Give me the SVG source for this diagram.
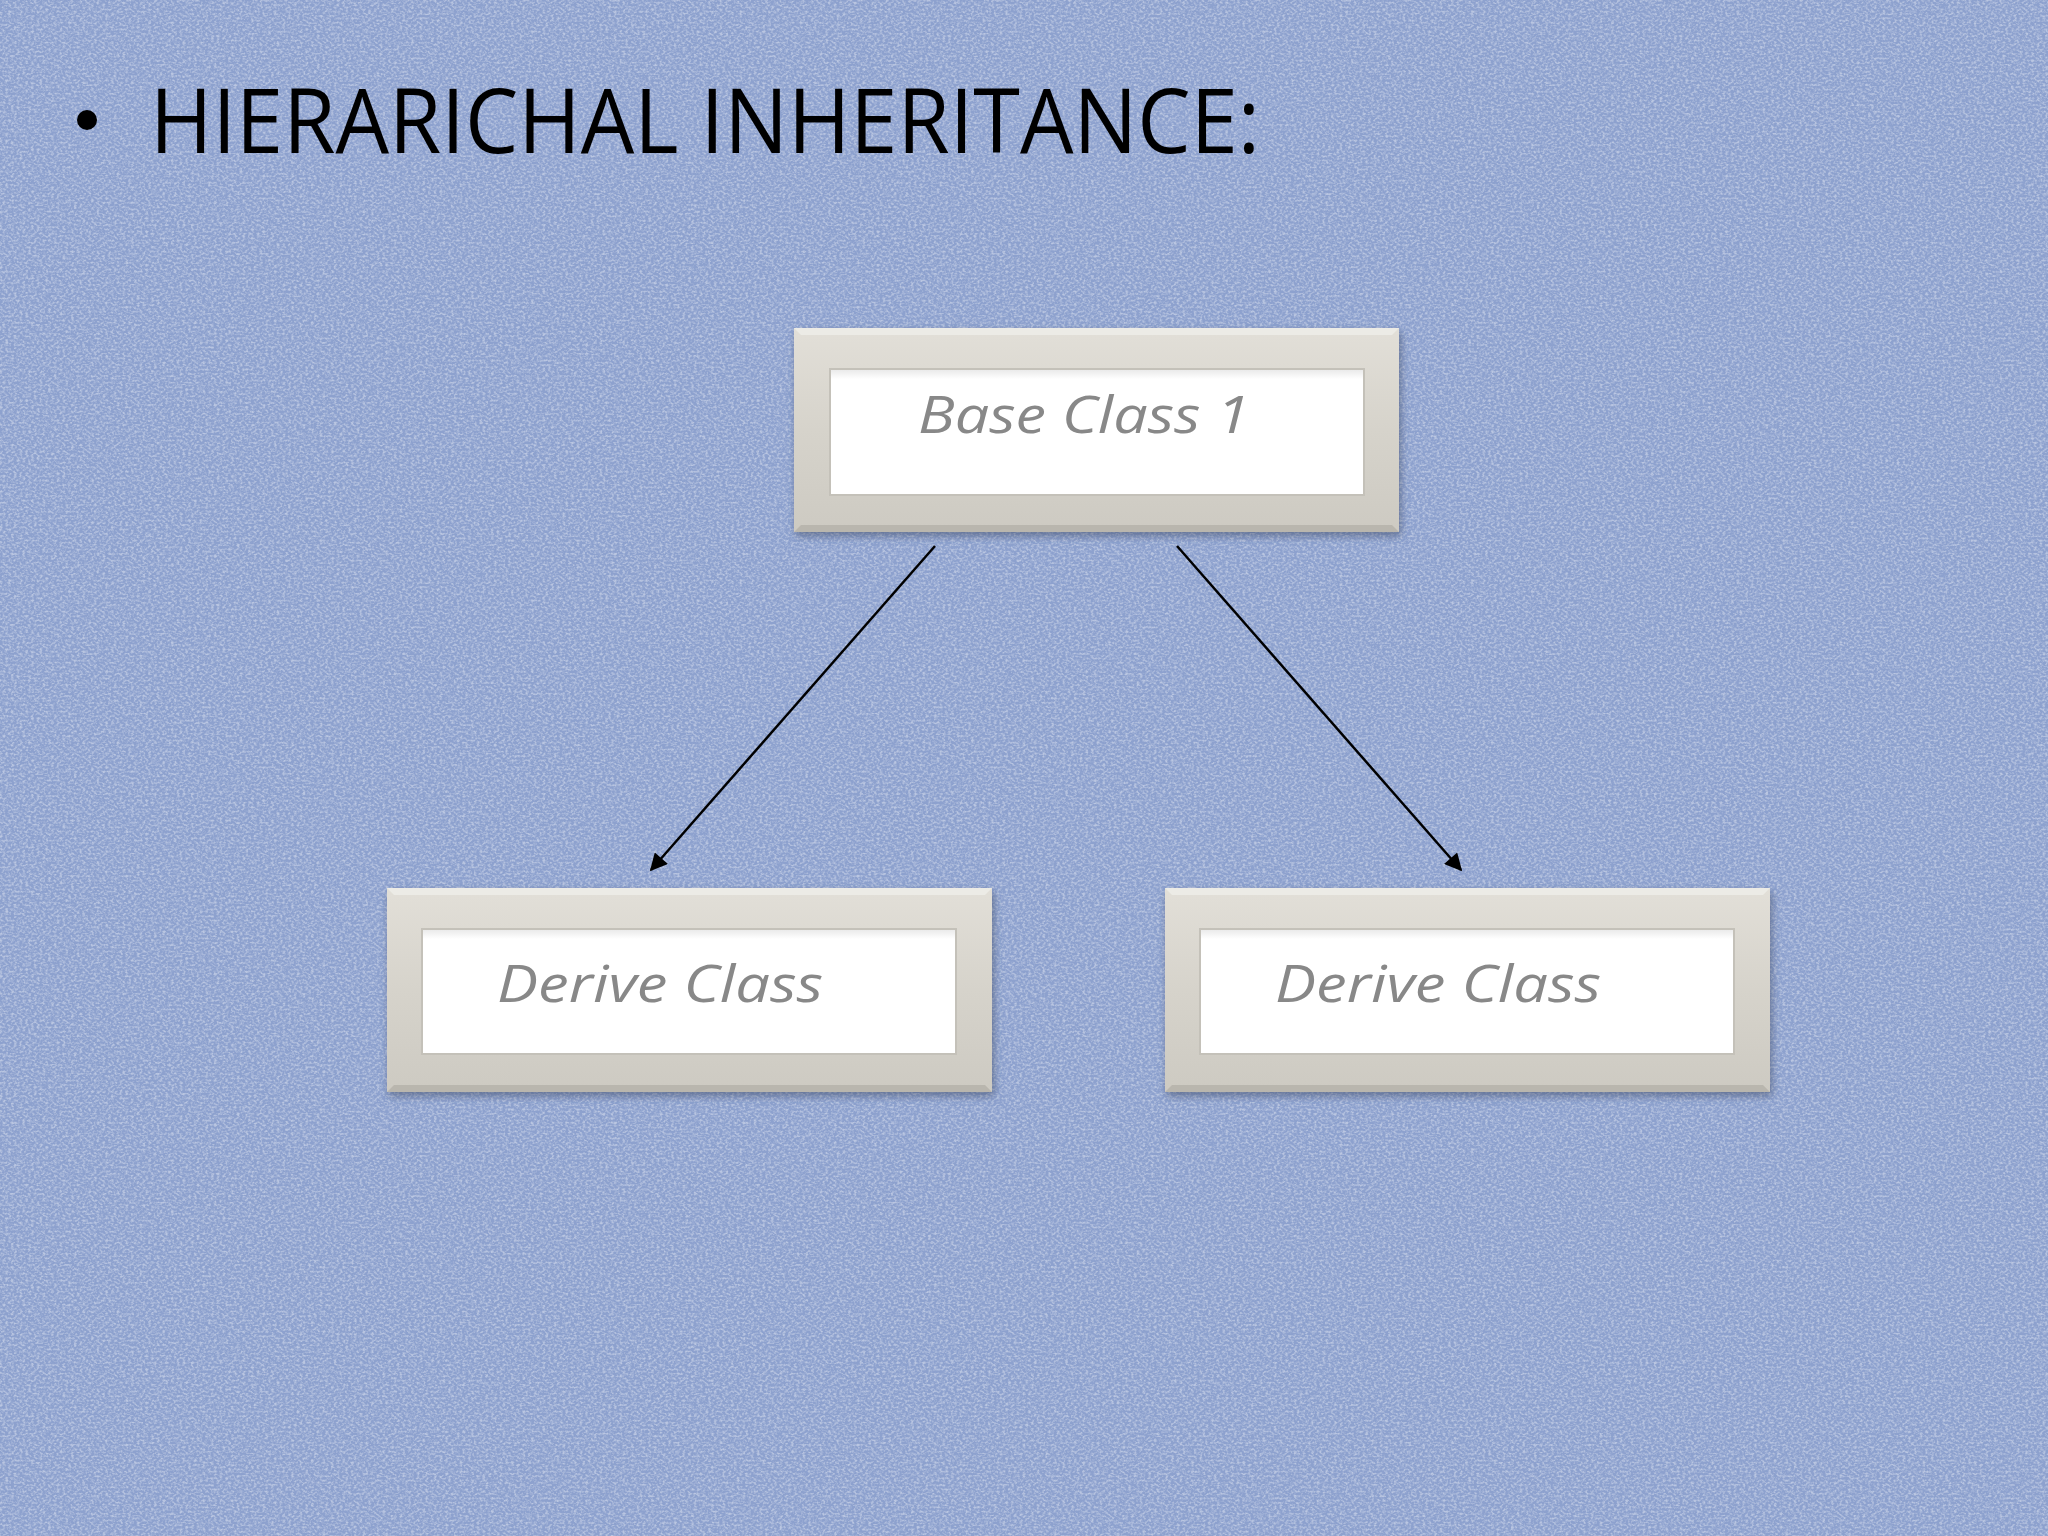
<svg xmlns="http://www.w3.org/2000/svg" width="2048" height="1536" viewBox="0 0 2048 1536">
<style>
.title{font-family:"Open Sans","DejaVu Sans",sans-serif;font-size:90px;fill:#000}
.lbl{font-family:"Open Sans","DejaVu Sans",sans-serif;font-style:italic;font-size:52px;fill:#888888}
.conn{stroke:#000;stroke-width:2.5;fill:none}
</style>
<defs>
<filter id="tex" x="0" y="0" width="100%" height="100%">
<feTurbulence type="fractalNoise" baseFrequency="0.35 0.45" numOctaves="2" seed="3" result="n"/>
<feColorMatrix in="n" type="matrix" values="0 0 0 0 1  0 0 0 0 1  0 0 0 0 1  0 0 0 -2.6 1.55" result="w"/>
<feComposite in="w" in2="SourceGraphic" operator="in"/>
</filter>
<filter id="sh" x="-10%" y="-10%" width="120%" height="130%">
<feGaussianBlur in="SourceAlpha" stdDeviation="4"/>
<feOffset dx="2" dy="4" result="b"/>
<feFlood flood-color="#3a4660" flood-opacity="0.55"/>
<feComposite in2="b" operator="in"/>
<feMerge><feMergeNode/><feMergeNode in="SourceGraphic"/></feMerge>
</filter>
<linearGradient id="fr" x1="0" y1="0" x2="0" y2="1">
<stop offset="0" stop-color="#e2dfd8"/>
<stop offset="0.5" stop-color="#d6d3cb"/>
<stop offset="1" stop-color="#cdcac2"/>
</linearGradient>
<linearGradient id="in" x1="0" y1="0" x2="0" y2="1">
<stop offset="0" stop-color="#e8e8e8"/>
<stop offset="0.08" stop-color="#ffffff"/>
<stop offset="1" stop-color="#ffffff"/>
</linearGradient>
<marker id="ah" viewBox="0 0 10 10" refX="9" refY="5" markerWidth="9" markerHeight="7" markerUnits="strokeWidth" orient="auto">
<path d="M0,0 L10,5 L0,10 z" fill="#000"/>
</marker>
</defs>
<rect x="0" y="0" width="2048" height="1536" fill="#8da1ce"/>
<rect x="0" y="0" width="2048" height="1536" fill="#ffffff" filter="url(#tex)" opacity="0.4"/>

<g id="title">
<circle cx="87" cy="120" r="10" fill="#000"/>
<text class="title" x="150" y="153" textLength="1110" lengthAdjust="spacingAndGlyphs">HIERARICHAL INHERITANCE:</text>
</g>

<g id="connectors">
<line class="conn" x1="935" y1="546" x2="651" y2="870" marker-end="url(#ah)"/>
<line class="conn" x1="1177" y1="546" x2="1461" y2="870" marker-end="url(#ah)"/>
</g>

<g id="base">
<g filter="url(#sh)">
<rect x="794" y="328" width="605" height="204" fill="url(#fr)"/>
</g>
<path d="M794,328 L1399,328 L1392,335 L801,335 Z" fill="#ecebe6"/>
<path d="M794,532 L1399,532 L1392,525 L801,525 Z" fill="#b9b6ae"/>
<rect x="830" y="369" width="534" height="126" fill="url(#in)" stroke="#c4c1b9" stroke-width="2"/>
<text class="lbl" x="918" y="433" textLength="332" lengthAdjust="spacingAndGlyphs">Base Class 1</text>
</g>

<g id="derive-left">
<g filter="url(#sh)">
<rect x="387" y="888" width="605" height="204" fill="url(#fr)"/>
</g>
<path d="M387,888 L992,888 L985,895 L394,895 Z" fill="#ecebe6"/>
<path d="M387,1092 L992,1092 L985,1085 L394,1085 Z" fill="#b9b6ae"/>
<rect x="422" y="929" width="534" height="125" fill="url(#in)" stroke="#c4c1b9" stroke-width="2"/>
<text class="lbl" x="497" y="1002" textLength="326" lengthAdjust="spacingAndGlyphs">Derive Class</text>
</g>

<g id="derive-right">
<g filter="url(#sh)">
<rect x="1165" y="888" width="605" height="204" fill="url(#fr)"/>
</g>
<path d="M1165,888 L1770,888 L1763,895 L1172,895 Z" fill="#ecebe6"/>
<path d="M1165,1092 L1770,1092 L1763,1085 L1172,1085 Z" fill="#b9b6ae"/>
<rect x="1200" y="929" width="534" height="125" fill="url(#in)" stroke="#c4c1b9" stroke-width="2"/>
<text class="lbl" x="1275" y="1002" textLength="326" lengthAdjust="spacingAndGlyphs">Derive Class</text>
</g>
</svg>
